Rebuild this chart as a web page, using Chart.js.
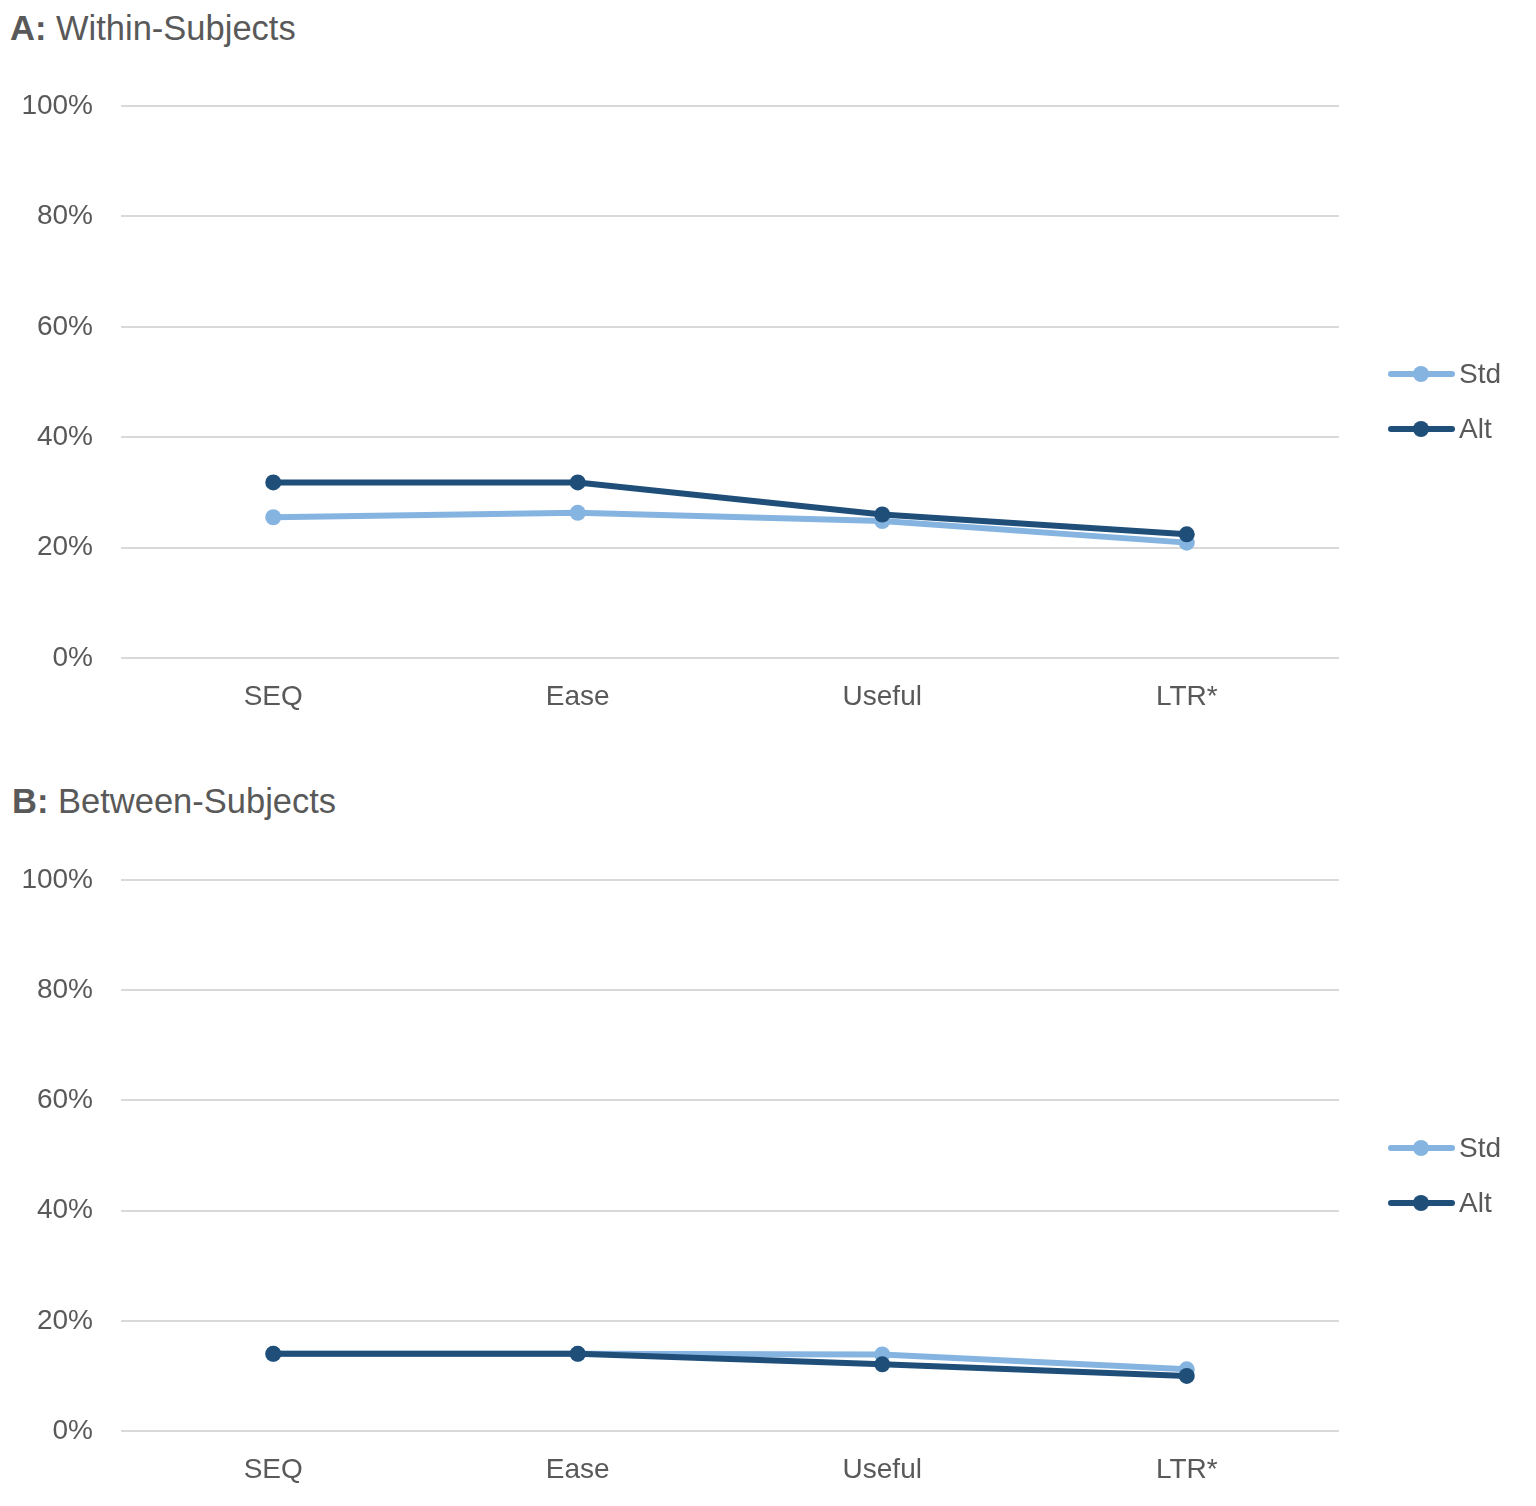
<!DOCTYPE html>
<html>
<head>
<meta charset="utf-8">
<script src="https://cdn.jsdelivr.net/npm/chart.js@4"></script>
<style>
  body { margin: 0; background: #fff; }
  .wrap { position: relative; width: 1536px; height: 1506px; }
  .title { position: absolute; font: 34.5px "Liberation Sans", Arial, sans-serif; line-height: 34px; color: #595959; white-space: nowrap; }
  canvas { position: absolute; left: 0; }
</style>
</head>
<body>
<div class="wrap">
  <div class="title" style="left:10px; top:11px;"><b>A:</b> Within-Subjects</div>
  <canvas id="chartA" width="1536" height="720" style="top:0px;"></canvas>
  <div class="title" style="left:12px; top:784px;"><b>B:</b> Between-Subjects</div>
  <canvas id="chartB" width="1536" height="719" style="top:774px;"></canvas>
</div>
<script>
const categories = ['SEQ', 'Ease', 'Useful', 'LTR*'];
const yTicks = [0, 0.2, 0.4, 0.6, 0.8, 1.0];

// A: within-subjects
const withinStd = [0.255, 0.263, 0.248, 0.209];
const withinAlt = [0.318, 0.318, 0.260, 0.224];

// B: between-subjects
const betweenStd = [0.140, 0.140, 0.139, 0.112];
const betweenAlt = [0.140, 0.140, 0.121, 0.100];

const stdColor = '#86b4e1';
const altColor = '#1f4e79';
const textColor = '#595959';
const fontFamily = '"Liberation Sans", Arial, sans-serif';

// legend drawn as line + dot, like the original
const sideLegend = {
  id: 'sideLegend',
  afterDraw(chart) {
    const ctx = chart.ctx;
    const ys = [374, 429];
    chart.data.datasets.forEach((ds, i) => {
      const y = ys[i];
      ctx.save();
      ctx.strokeStyle = ds.borderColor;
      ctx.lineWidth = 6;
      ctx.lineCap = 'round';
      ctx.beginPath();
      ctx.moveTo(1391, y);
      ctx.lineTo(1452, y);
      ctx.stroke();
      ctx.fillStyle = ds.borderColor;
      ctx.beginPath();
      ctx.arc(1421, y, 8, 0, Math.PI * 2);
      ctx.fill();
      ctx.fillStyle = textColor;
      ctx.font = '28px ' + fontFamily;
      ctx.textBaseline = 'middle';
      ctx.fillText(ds.label, 1459, y + 1);
      ctx.restore();
    });
  }
};

function makeChart(id, std, alt) {
  return new Chart(document.getElementById(id), {
    type: 'line',
    data: {
      labels: categories,
      datasets: [
        { label: 'Std', data: std, borderColor: stdColor, backgroundColor: stdColor, order: 1 },
        { label: 'Alt', data: alt, borderColor: altColor, backgroundColor: altColor, order: 0 }
      ]
    },
    options: {
      responsive: false,
      animation: false,
      devicePixelRatio: 1,
      elements: {
        line: { borderWidth: 6, tension: 0, borderCapStyle: 'round' },
        point: { radius: 8, borderWidth: 0, hoverRadius: 8 }
      },
      layout: { padding: { top: 106, right: 197, left: 0, bottom: 0 } },
      plugins: { legend: { display: false }, tooltip: { enabled: false } },
      scales: {
        x: {
          offset: true,
          grid: { display: false },
          border: { display: false },
          ticks: { color: textColor, font: { family: fontFamily, size: 28 }, padding: 14 },
          afterFit(scale) { scale.height = 62; }
        },
        y: {
          min: 0,
          max: 1,
          afterBuildTicks(scale) { scale.ticks = yTicks.map(v => ({ value: v })); },
          grid: { color: '#d9d9d9', lineWidth: 2, drawTicks: false },
          border: { display: false },
          ticks: {
            color: textColor,
            font: { family: fontFamily, size: 28 },
            padding: 28,
            callback: v => Math.round(v * 100) + '%'
          },
          afterFit(scale) { scale.width = 121; }
        }
      }
    },
    plugins: [sideLegend]
  });
}

makeChart('chartA', withinStd, withinAlt);
makeChart('chartB', betweenStd, betweenAlt);
</script>
</body>
</html>
